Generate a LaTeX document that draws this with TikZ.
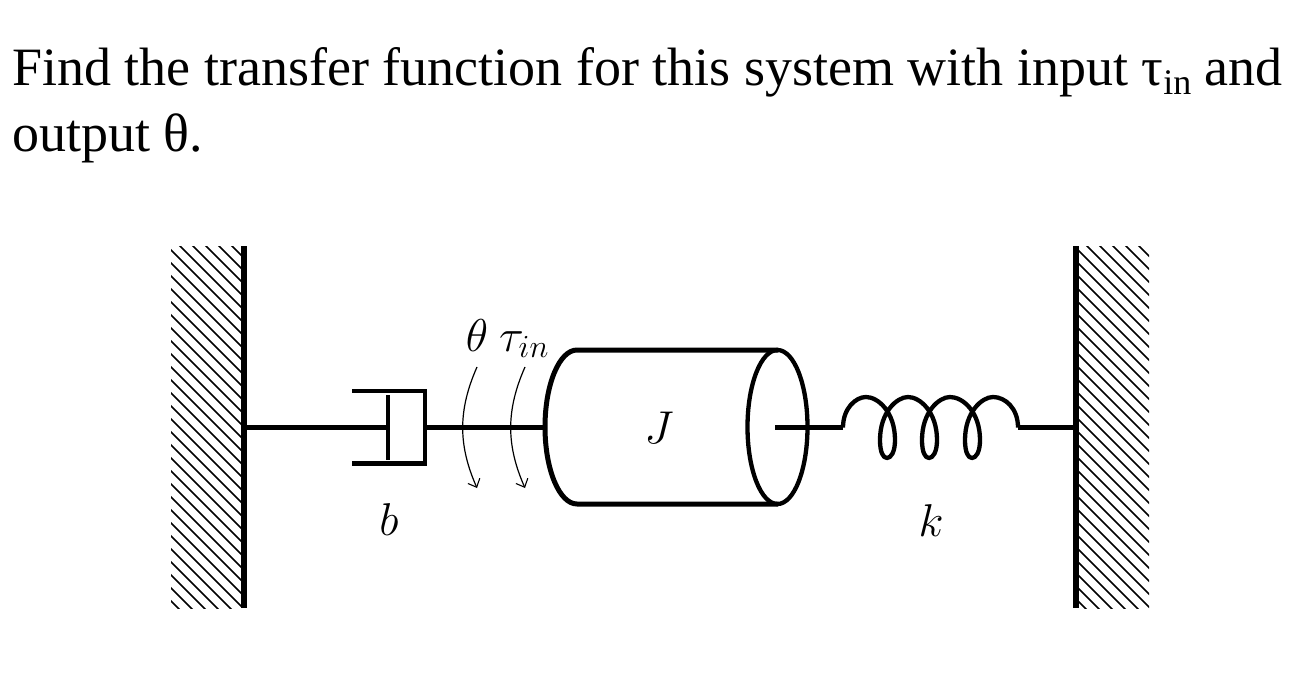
\documentclass[tikz,border=0pt]{standalone}
\usepackage{fix-cm}
\usepackage{fontspec}
\setmainfont{Liberation Serif}
\usetikzlibrary{arrows.meta}
\tikzset{
  heading/.style={anchor=base west,inner sep=0pt,font=\fontsize{54}{60}\selectfont},
  symb/.style={inner sep=0pt,font=\fontsize{46}{50}\selectfont},
  thick shape/.style={line width=4.5pt,line join=miter},
  turn/.style={line width=1.2pt,-{Straight Barb[length=7pt,width=13pt,line width=1.1pt]}},
  wall/.style={line width=6pt},
  hatch/.style={line width=1.6pt},
  bar/.style={line width=4.3pt}
}
\begin{document}
\begin{tikzpicture}[x=1pt,y=-1pt]
\useasboundingbox (0,0) rectangle (1310,674);
\fill[white] (0,0) rectangle (1310,674);
% heading
\node[heading] (l1) at (12,86) {Find the transfer function for this system with input τ\raisebox{-0.16em}{\fontsize{36}{40}\selectfont in} and};
\node[heading] (l2) at (12,152) {output θ.};
% hatching
\begin{scope}
\clip (171,246) rectangle (241,608);
\foreach \k in {-30,...,40} \draw[hatch] (100,257+\k*13) -- ++(200,200);
\end{scope}
\begin{scope}
\clip (1078,246) rectangle (1149,608);
\foreach \k in {-30,...,40} \draw[hatch] (1000,250+\k*13) -- ++(200,200);
\end{scope}
% walls
\coordinate (wl) at (243.5,427.5);
\coordinate (wr) at (1076,427.5);
\draw[wall] (243.5,246) -- (243.5,608);
\draw[wall] (1076,246) -- (1076,608);
% damper
\coordinate (pist) at (388,427.5);
\coordinate (dampr) at (425,427.5);
\coordinate (cyl) at (545,427.5);
\draw[bar] (wl) -- (pist);
\draw[line width=4.5pt] (388,395) -- (388,460);
\draw[thick shape] (352,391) -- (425,391) -- (425,463.5) -- (352,463.5);
\draw[bar] (dampr) -- (cyl);
% cylinder
\draw[line width=5pt] (778,350) -- (577,350) arc[start angle=270,end angle=90,x radius=32,y radius=77] -- (778,504);
\draw[bar] (777.5,427) ellipse[x radius=30,y radius=77];
% spring
\coordinate (s0) at (843,427.5);
\coordinate (s1) at (1018,427.5);
\draw[bar] (775,427.5) -- (s0);
\draw[bar,line join=round] (s0)
  .. controls (843,408) and (856,397) .. (866,397)
  .. controls (878,397) and (895,412) .. (895,440)
  .. controls (895,452) and (891,458) .. (887,458)
  .. controls (883,458) and (880,452) .. (880,440)
  .. controls (880,412) and (897,397) .. (908,397)
  .. controls (920,397) and (937,412) .. (937,440)
  .. controls (937,452) and (933,458) .. (929,458)
  .. controls (925,458) and (922,452) .. (922,440)
  .. controls (922,412) and (939,397) .. (950,397)
  .. controls (963,397) and (980,412) .. (980,440)
  .. controls (980,452) and (976,458) .. (972,458)
  .. controls (968,458) and (965,452) .. (965,440)
  .. controls (965,412) and (982,397) .. (993,397)
  .. controls (1005,397) and (1018,408) .. (s1);
\draw[bar] (s1) -- (wr);
% rotation arrows
\coordinate (a0) at (477,367);
\coordinate (a1) at (477,488);
\coordinate (b0) at (525,367);
\coordinate (b1) at (525,488);
\draw[turn] (a0) .. controls (458,410) and (458,445) .. (a1);
\draw[turn] (b0) .. controls (506,410) and (506,445) .. (b1);
% labels
\node[symb,anchor=base] (theta) at (477,351) {$\theta$};
\node[symb,anchor=base] (tau) at (524,351) {$\tau_{in}$};
\node[symb] (J) at (659,428) {$J$};
\node[symb] (b) at (389,520) {$b$};
\node[symb] (k) at (931,521) {$k$};
\end{tikzpicture}
\end{document}
